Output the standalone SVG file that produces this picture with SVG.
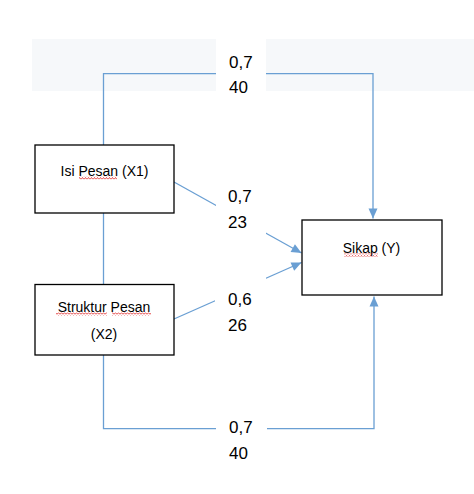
<svg xmlns="http://www.w3.org/2000/svg" width="474" height="494" viewBox="0 0 474 494">
<style>
.box{fill:#fff;stroke:#000;stroke-width:1.3}
.con{fill:none;stroke:#6a9fd3;stroke-width:1.3}
.t{font-family:"Liberation Sans",Arial,sans-serif;font-size:14px;fill:#000}
.lbl{font-family:"Liberation Sans",Arial,sans-serif;font-size:17px;fill:#000}
.sq{fill:url(#wave)}
</style>
<defs>
<marker id="arr" markerUnits="userSpaceOnUse" markerWidth="12" markerHeight="12" viewBox="0 0 12 12" refX="11" refY="6" orient="auto">
<path d="M1,1.5 L11,6 L1,10.5 Z" fill="#6a9fd3"/>
</marker>
<pattern id="wave" patternUnits="userSpaceOnUse" width="3" height="3">
<path d="M0,2.5 L1.5,0.5 L3,2.5" fill="none" stroke="#e02020" stroke-width="0.8"/>
</pattern>
</defs>
<rect x="32" y="39" width="442" height="52" fill="#f6f8fa"/>
<g id="connectors">
<path class="con" d="M103.5,145 V73.7 H373 V218.5" marker-end="url(#arr)"/>
<path class="con" d="M174,182 L301.5,253" marker-end="url(#arr)"/>
<path class="con" d="M174,319 L301.5,262.5" marker-end="url(#arr)"/>
<path class="con" d="M103.5,213 V284"/>
<path class="con" d="M103.5,355 V428.7 H374 V296.5" marker-end="url(#arr)"/>
</g>
<g id="labels">
<rect x="216" y="39" width="50" height="62" fill="#fff"/>
<text class="lbl" x="229" y="67.5">0,7</text>
<text class="lbl" x="229" y="93">40</text>
<rect x="216" y="188" width="50" height="48" fill="#fff"/>
<text class="lbl" x="228" y="201.5">0,7</text>
<text class="lbl" x="228" y="228">23</text>
<rect x="215" y="275" width="51" height="62" fill="#fff"/>
<text class="lbl" x="228" y="305">0,6</text>
<text class="lbl" x="228" y="331">26</text>
<rect x="216" y="414" width="51" height="52" fill="#fff"/>
<text class="lbl" x="229" y="433">0,7</text>
<text class="lbl" x="229" y="459">40</text>
</g>
<g id="node-x1">
<rect class="box" x="35" y="145" width="139" height="68"/>
<text class="t" x="104.5" y="176" text-anchor="middle">Isi Pesan (X1)</text>
<rect class="sq" x="79" y="176.5" width="38" height="3"/>
</g>
<g id="node-x2">
<rect class="box" x="35" y="284.5" width="139" height="70.5"/>
<text class="t" x="104" y="312" text-anchor="middle">Struktur Pesan</text>
<text class="t" x="104" y="339" text-anchor="middle">(X2)</text>
<rect class="sq" x="56" y="312.5" width="51" height="3"/>
<rect class="sq" x="112" y="312.5" width="39" height="3"/>
</g>
<g id="node-y">
<rect class="box" x="302" y="220" width="140" height="75"/>
<text class="t" x="371.5" y="253" text-anchor="middle">Sikap (Y)</text>
<rect class="sq" x="344" y="253.5" width="34" height="3"/>
</g>
</svg>
